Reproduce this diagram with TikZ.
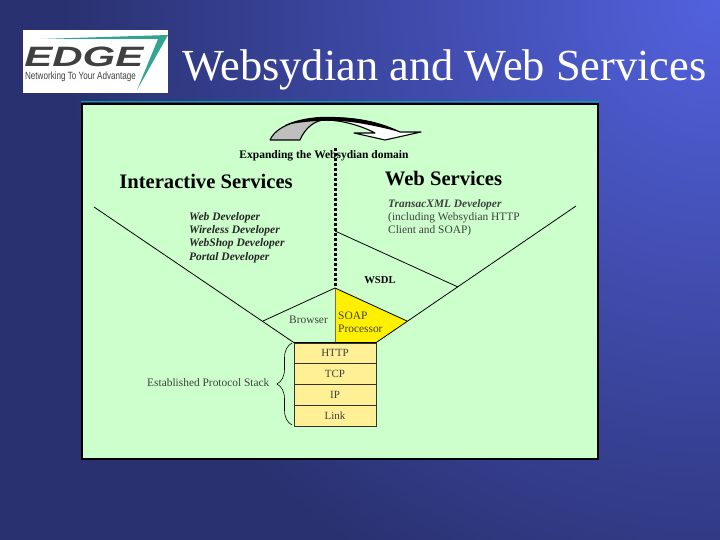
\documentclass[tikz,border=0pt]{standalone}
\usepackage{fontspec}
\setmainfont{Liberation Serif}
\newfontfamily\logofont{Liberation Sans}
\usetikzlibrary{decorations.pathreplacing,positioning}
\definecolor{panelgreen}{RGB}{204,255,204}
\definecolor{slidedark}{RGB}{42,49,112}
\definecolor{slidelight}{RGB}{82,98,222}
\definecolor{stackyellow}{RGB}{255,240,150}
\definecolor{soapyellow}{RGB}{255,240,0}
\definecolor{edgeteal}{RGB}{50,165,145}
\definecolor{edgegray}{RGB}{64,64,64}

\tikzset{
    stackbox/.style={draw=black!80,fill=stackyellow,minimum width=82pt,minimum height=20.5pt,inner sep=0pt,font=\fontsize{11}{11}\selectfont,text=black!75},
    heading/.style={font=\bfseries\fontsize{20.6}{21}\selectfont,inner sep=0pt},
    role/.style={font=\bfseries\itshape\fontsize{11.5}{13.3}\selectfont,align=left,inner sep=0pt,text=black!85},
    plain/.style={font=\fontsize{11.4}{13.2}\selectfont,align=left,inner sep=0pt,text=black!75},
    thinline/.style={line width=0.8pt}
}

\begin{document}
\begin{tikzpicture}[x=1pt,y=-1pt]

\useasboundingbox (0,0) rectangle (720,540);

% slide background
\begin{scope}
\clip (0,0) rectangle (720,540);
\fill[slidedark] (0,0) rectangle (720,540);
\shade[inner color=slidelight,outer color=slidedark] (720,0) circle (660);
\end{scope}

% logo
\fill[white] (23,30) rectangle (168,93);
\fill[edgeteal] (40,39) -- (168,35) -- (137,90) -- (158,39) -- cycle;
\node[anchor=base west,inner sep=0pt,text=edgegray,xscale=1.5] (edge) at (24,67) {\logofont\bfseries\itshape\fontsize{28}{28}\selectfont EDGE};
\node[anchor=west,inner sep=0pt,text=edgegray,xscale=0.77] (tagline) at (25,77) {\logofont\fontsize{10.5}{11}\selectfont Networking To Your Advantage};

\node[anchor=base west,inner sep=0pt,text=white] (title) at (182,81) {\fontsize{44.4}{45}\selectfont Websydian and Web Services};

% panel
\fill[panelgreen] (82,104) rectangle (598,459);
\draw[teal!70!cyan,line width=1pt] (81,101.5) -- (599,101.5);
\draw[black,line width=2pt] (82,104) rectangle (598,459);

% arrow
\fill[black!25] (270,140) .. controls (278,122) and (310,117) .. (325,118) -- (325,120) .. controls (315,120) and (305,128) .. (300,140) -- cycle;
\fill[white] (325,119) -- (345,119) .. controls (365,120) and (385,125) .. (400,131) -- (421,132) -- (385,140) -- (354,133) -- (375,133) .. controls (360,125) and (340,120) .. (325,120) -- cycle;
\fill (285,125) .. controls (300,118) and (320,116) .. (335,117) .. controls (365,118) and (385,125) .. (400,132) .. controls (380,127) and (355,121) .. (335,121) .. controls (320,120) and (300,122) .. (285,125) -- cycle;
\draw[line width=1.1pt,line join=round] (270,140) .. controls (278,122) and (310,117) .. (335,118) .. controls (365,118) and (385,125) .. (400,132) -- (421,132) -- (385,140) -- (354,133) -- (375,133) .. controls (360,125) and (340,120) .. (325,120) .. controls (315,120) and (305,128) .. (300,140) -- cycle;

\node[inner sep=0pt,font=\bfseries\fontsize{11.5}{12}\selectfont] (expanding) at (324,155.5) {Expanding the Websydian domain};

\node[heading] (interactive) at (206,181) {Interactive Services};
\node[heading] (webservices) at (443.5,179) {Web Services};

\node[role,anchor=north west] (roles) at (189,212) {Web Developer\\Wireless Developer\\WebShop Developer\\Portal Developer};
\node[anchor=north west,plain] (transac) at (388,199) {\textbf{\textit{TransacXML Developer}}\\(including Websydian HTTP\\Client and SOAP)};

% stack
\node[stackbox] (http) at (335,353) {HTTP};
\node[stackbox,below=0pt of http] (tcp) {TCP};
\node[stackbox,below=0pt of tcp] (ip) {IP};
\node[stackbox,below=0pt of ip] (link) {Link};

% soap
\coordinate (apex) at (335,288);
\coordinate (browsertip) at (263,321);
\coordinate (soaptip) at (407,321);
\coordinate (topleft) at (94,207);
\coordinate (topright) at (576,206);
\coordinate (wsdlfoot) at (458,287);
\coordinate (dotstart) at (335,148);
\coordinate (dotmid) at (335,231);

\fill[soapyellow] (apex) -- (soaptip) -- (http.north east) -- (http.north) -- cycle;
\draw[black!60!yellow,thinline] (apex) -- (http.north);
\draw[thinline] (topleft) -- (http.north west) -- (http.north east) -- (topright);
\draw[thinline] (browsertip) -- (apex) -- (soaptip);
\draw[thinline] (dotmid) -- (wsdlfoot);
\draw[line width=3pt,dash pattern=on 2.6pt off 2.4pt] (dotstart) -- (apex);

\node[plain,anchor=west] (browser) at (289,320) {Browser};
\node[plain,anchor=west] (soap) at (338,322) {SOAP\\Processor};
\node[inner sep=0pt,font=\bfseries\fontsize{10.6}{11}\selectfont] (wsdl) at (380,280) {WSDL};

% brace
\coordinate (bracetop) at (292,343);
\coordinate (bracebot) at (292,425);
\draw[decorate,decoration={brace,amplitude=15pt},line width=0.6pt] (bracebot) -- (bracetop);
\node[plain,anchor=west] (stacklabel) at (147,383) {Established Protocol Stack};

\end{tikzpicture}
\end{document}
